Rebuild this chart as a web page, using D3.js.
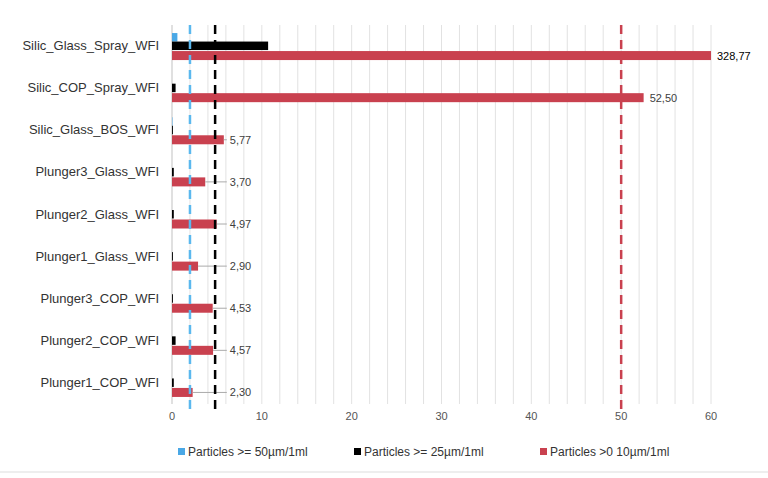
<!DOCTYPE html><html><head><script src="https://cdn.jsdelivr.net/npm/d3@7"></script>
<style>body{margin:0;background:#fff}text{font-family:"Liberation Sans",Arial,sans-serif}</style></head><body>
<svg id="c" width="768" height="478"></svg>
<script>
const categories=["Silic_Glass_Spray_WFI","Silic_COP_Spray_WFI","Silic_Glass_BOS_WFI","Plunger3_Glass_WFI","Plunger2_Glass_WFI","Plunger1_Glass_WFI","Plunger3_COP_WFI","Plunger2_COP_WFI","Plunger1_COP_WFI"];
const p50=[0.6,0,0.05,0,0,0,0,0,0];
const p25=[10.7,0.4,0.1,0.2,0.2,0.1,0.1,0.4,0.2];
const p10=[328.77,52.50,5.77,3.70,4.97,2.90,4.53,4.57,2.30];
const p10Labels=["328,77","52,50","5,77","3,70","4,97","2,90","4,53","4,57","2,30"];
const xTicks=[0,10,20,30,40,50,60];
const refLines=[{v:2,c:"#5bb8ee"},{v:4.8,c:"#000"},{v:50,c:"#c9414f"}];
const seriesNames=["Particles >= 50µm/1ml","Particles >= 25µm/1ml","Particles >0 10µm/1ml"];
const colors=["#4aa8e6","#000000","#c9414f"];

const svg=d3.select("#c");
const x=d3.scaleLinear().domain([0,60]).range([172,711]);
const y=d3.scaleBand().domain(categories).range([25,404]);
const g=svg.append("g");
d3.range(0,61,2).forEach(v=>g.append("line").attr("x1",x(v)).attr("x2",x(v)).attr("y1",25).attr("y2",404).attr("stroke","#e2e2e2"));
g.append("line").attr("x1",x(0)).attr("x2",x(0)).attr("y1",25).attr("y2",404).attr("stroke","#cfcfcf");
const bh=8.5;
const series=[p50,p25,p10];
series.forEach((s,i)=>{
 g.selectAll(null).data(s).enter().append("rect")
  .attr("x",x(0)).attr("y",(d,j)=>y(categories[j])+y.bandwidth()/2-13+i*bh+ (i==2?1:0))
  .attr("width",d=>Math.max(0,x(Math.min(d,60))-x(0))).attr("height",i==2?9:bh).attr("fill",colors[i]);
});
p10.forEach((d,j)=>{
 const cy=y(categories[j])+y.bandwidth()/2-13+2*bh+5.5;
 if(d<10){
  g.append("line").attr("x1",x(d)).attr("x2",x(6.1)).attr("y1",cy).attr("y2",cy).attr("stroke","#aaa");
  g.append("text").attr("x",x(6.1)+3).attr("y",cy+4).attr("font-size",11).attr("fill","#404040").text(p10Labels[j]);
 } else {
  g.append("text").attr("x",x(Math.min(d,60))+6).attr("y",cy+4).attr("font-size",11).attr("fill",d>60?"#000":"#404040").text(p10Labels[j]);
 }
});
refLines.forEach(r=>g.append("line").attr("x1",x(r.v)).attr("x2",x(r.v)).attr("y1",25).attr("y2",410)
 .attr("stroke",r.c).attr("stroke-width",2.5).attr("stroke-dasharray","9,6"));
categories.forEach(c=>svg.append("text").attr("x",159).attr("y",y(c)+y.bandwidth()/2+4).attr("text-anchor","end")
 .attr("font-size",13).attr("fill","#333").text(c));
xTicks.forEach(t=>svg.append("text").attr("x",x(t)).attr("y",420).attr("text-anchor","middle").attr("font-size",11).attr("fill","#555").text(t));
const lx=[178,354,540];
seriesNames.forEach((n,i)=>{
 svg.append("rect").attr("x",lx[i]).attr("y",448).attr("width",7).attr("height",7).attr("fill",colors[i]);
 svg.append("text").attr("x",lx[i]+10).attr("y",456).attr("font-size",12).attr("fill","#333").text(n);
});
svg.append("line").attr("x1",0).attr("x2",768).attr("y1",472).attr("y2",472).attr("stroke","#ddd");
</script></body></html>
